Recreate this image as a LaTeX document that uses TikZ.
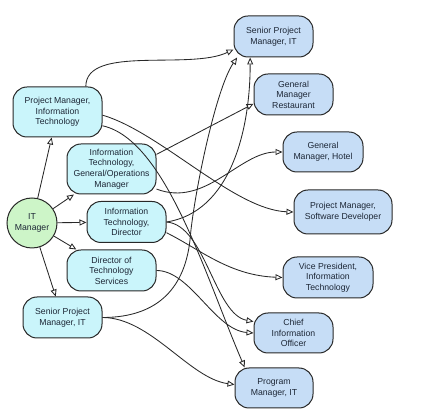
\documentclass[tikz,border=0pt]{standalone}
\usepackage{fontspec}
\setmainfont{Liberation Sans}
\usepackage{xcolor}
\usepackage{tikz}
\usetikzlibrary{arrows.meta}
\definecolor{leftcyan}{RGB}{202, 245, 251}
\definecolor{rightblue}{RGB}{198, 221, 246}
\definecolor{rootgreen}{RGB}{205, 245, 200}
\definecolor{edgegray}{RGB}{40, 40, 40}
\definecolor{textnavy}{RGB}{30, 40, 55}

\begin{document}
\begin{tikzpicture}[
    x=1pt, y=-1pt,
    box/.style={rectangle, rounded corners=14pt, draw=edgegray, line width=1pt,
                align=center, inner sep=1pt, text=textnavy, font=\fontsize{8.7}{10.6}\selectfont},
    leftbox/.style={box, fill=leftcyan},
    rightbox/.style={box, fill=rightblue},
    rootnode/.style={circle, draw=edgegray, fill=rootgreen, line width=1pt, minimum size=50pt,
                inner sep=0pt, align=center, text=textnavy, font=\fontsize{8.7}{10.6}\selectfont},
    arrow/.style={-{Triangle[open, length=7pt, width=6pt]}, line width=0.85pt, draw=edgegray}
]
    \useasboundingbox (0,0) rectangle (434,419);

    \node[rootnode] (itm) at (32,223) {IT\\Manager};
    \node[leftbox, minimum width=89pt, minimum height=50pt] (pmit)   at (57.5,112)  {Project Manager,\\Information\\Technology};
    \node[leftbox, minimum width=89pt, minimum height=50pt] (genops) at (111.5,169) {Information\\Technology,\\General/Operations\\Manager};
    \node[leftbox, minimum width=79pt, minimum height=41pt] (itd)    at (126.5,222) {Information\\Technology,\\Director};
    \node[leftbox, minimum width=89pt, minimum height=41pt] (dts)    at (111.5,270.5) {Director of\\Technology\\Services};
    \node[leftbox, minimum width=79pt, minimum height=41pt] (spml)   at (62.5,317.5) {Senior Project\\Manager, IT};

    \node[rightbox, minimum width=79pt, minimum height=41pt] (spmr)  at (273.5,36.5) {Senior Project\\Manager, IT};
    \node[rightbox, minimum width=79pt, minimum height=41pt] (gmr)   at (293.5,94.5) {General\\Manager\\Restaurant};
    \node[rightbox, minimum width=80pt, minimum height=40pt] (gmh)   at (323,152)    {General\\Manager, Hotel};
    \node[rightbox, minimum width=98pt, minimum height=44pt] (pmsw)  at (343,212)    {Project Manager,\\Software Developer};
    \node[rightbox, minimum width=90pt, minimum height=41pt] (vpit)  at (328,277.5)  {Vice President,\\Information\\Technology};
    \node[rightbox, minimum width=79pt, minimum height=40pt] (chief) at (293.5,333)  {Chief\\Information\\Officer};
    \node[rightbox, minimum width=78pt, minimum height=40pt] (pgm)   at (274,388)    {Program\\Manager, IT};

    \draw[arrow] (itm) -- (pmit);
    \draw[arrow] (itm) -- (genops);
    \draw[arrow] (itm) -- (itd);
    \draw[arrow] (itm) -- (dts);
    \draw[arrow] (itm) -- (spml);

    \draw[arrow] (pmit.42) .. controls +(0,-42) and +(-44,21) .. (spmr.198);
    \draw[arrow] (pmit.-4) .. controls +(58,17) and +(-59,-2) .. (pmsw.west);
    \draw[arrow] (pmit.-17) .. controls +(63,14) and +(-40,-93) .. (pgm.145);
    \draw[arrow] (genops.18) -- (gmr.193);
    \draw[arrow] (genops.-24) .. controls +(49,19) and +(-43,0) .. (gmh.west);
    \draw[arrow] (itd.east) .. controls +(64,-10) and +(0,73) .. (spmr.222);
    \draw[arrow] (itd.east) .. controls +(39,3) and +(-39,-7) .. (chief.164);
    \draw[arrow] (itd.-15) .. controls +(34,17) and +(-53,-2) .. (vpit.west);
    \draw[arrow] (dts.east) .. controls +(34,0) and +(-39,-3) .. (chief.west);
    \draw[arrow] (spml.east) .. controls +(58,0) and (185,285) .. (190,240)
                 .. controls (193,200) and (215,90) .. (spmr.210);
    \draw[arrow] (spml.east) .. controls +(48,0) and +(-45,-6) .. (pgm.175);
\end{tikzpicture}
\end{document}
